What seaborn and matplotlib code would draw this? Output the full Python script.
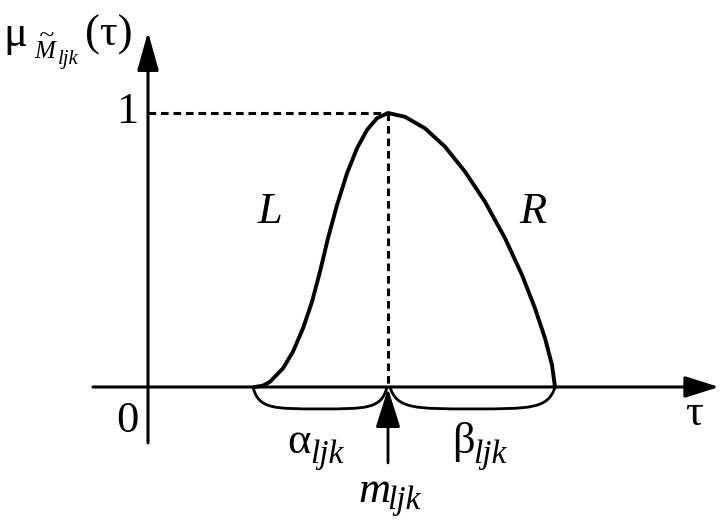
import matplotlib
matplotlib.use("Agg")
import matplotlib.pyplot as plt
import seaborn as sns
import pandas as pd
from matplotlib.path import Path
from matplotlib.patches import PathPatch

# membership curve (tau, mu)
tau_left = [1.07, 1.15, 1.22, 1.35, 1.45, 1.55, 1.64, 1.72, 1.80, 1.89, 1.99, 2.09, 2.19, 2.29, 2.40]
mu_left = [0.0, 0.005, 0.019, 0.068, 0.129, 0.214, 0.311, 0.421, 0.543, 0.664, 0.780, 0.871, 0.938, 0.981, 1.0]
tau_right = [2.40, 2.57, 2.77, 2.97, 3.17, 3.37, 3.57, 3.74, 3.87, 3.97, 4.04, 4.07]
mu_right = [1.0, 0.986, 0.944, 0.877, 0.786, 0.676, 0.543, 0.409, 0.287, 0.178, 0.080, 0.0]

m_ljk = 2.40          # peak position
left_end = 1.05       # m - alpha
right_end = 4.07      # m + beta

SERIF = "Liberation Serif"

plt.rcParams["font.family"] = "serif"
plt.rcParams["font.serif"] = [SERIF, "DejaVu Serif"]
plt.rcParams["lines.scale_dashes"] = False

fig = plt.figure(figsize=(7.2, 5.23), dpi=100)
ax = fig.add_axes([0, 0, 1, 1])
ax.set_xlim(-1.48, 5.72)
ax.set_ylim(-0.4964, 1.4124)
ax.axis("off")

df = pd.DataFrame({"tau": tau_left + tau_right[1:], "mu": mu_left + mu_right[1:]})
sns.lineplot(data=df, x="tau", y="mu", sort=False, estimator=None,
             color="black", lw=2.8, ax=ax)

# axes with arrows
ax.annotate("", xy=(5.71, 0), xytext=(-0.55, 0),
            arrowprops=dict(arrowstyle="-|>,head_length=1.9,head_width=0.6",
                            mutation_scale=11, lw=2.2, color="black",
                            shrinkA=0, shrinkB=0))
ax.annotate("", xy=(0, 1.296), xytext=(0, -0.204),
            arrowprops=dict(arrowstyle="-|>,head_length=2.15,head_width=0.6",
                            mutation_scale=11, lw=2.2, color="black",
                            shrinkA=0, shrinkB=0))

# dashed guides to the peak
ax.plot([0, m_ljk], [1, 1], color="black", lw=2.2, dashes=(5.5, 3.5))
ax.plot([m_ljk, m_ljk], [1, 0], color="black", lw=2.2, dashes=(5.5, 3.5))

# braces under the axis
def brace(a, b, d=0.08):
    w = b - a
    mid = a + w / 2
    verts = [(a, 0), (a + 0.04 * w, -d), (a + 0.15 * w, -d), (mid, -d),
             (b - 0.15 * w, -d), (b - 0.04 * w, -d), (b, 0)]
    codes = [Path.MOVETO] + [Path.CURVE4] * 6
    ax.add_patch(PathPatch(Path(verts, codes), fill=False, lw=2.0, color="black"))

brace(left_end, m_ljk - 0.01)
brace(m_ljk + 0.02, right_end)

# arrow pointing at m
ax.annotate("", xy=(m_ljk, -0.005), xytext=(m_ljk, -0.277),
            arrowprops=dict(arrowstyle="-|>,head_length=2.2,head_width=0.69",
                            mutation_scale=11, lw=2.0, color="black",
                            shrinkA=0, shrinkB=0))

fs = 32
sub = 24
ax.text(-0.21, -0.164, "0", fontsize=fs, ha="center", va="baseline")
ax.text(-0.21, 0.964, "1", fontsize=fs, ha="center", va="baseline")
ax.text(5.46, -0.139, "τ", fontsize=fs, ha="center", va="baseline")
ax.text(1.22, 0.599, "L", fontsize=fs, style="italic", ha="center", va="baseline")
ax.text(3.85, 0.599, "R", fontsize=fs, style="italic", ha="center", va="baseline")

# alpha_ljk, beta_ljk, m_ljk built from pieces
ax.text(1.39, -0.241, "α", fontsize=fs, ha="left", va="baseline")
ax.text(1.62, -0.277, "ljk", fontsize=sub, style="italic", ha="left", va="baseline")
ax.text(3.04, -0.241, "β", fontsize=fs, ha="left", va="baseline")
ax.text(3.25, -0.277, "ljk", fontsize=sub, style="italic", ha="left", va="baseline")
ax.text(2.10, -0.420, "m", fontsize=fs, style="italic", ha="left", va="baseline")
ax.text(2.39, -0.445, "ljk", fontsize=sub, style="italic", ha="left", va="baseline")

# y-axis label: mu, tilde M with ljk, (tau)
ax.text(-1.45, 1.245, "μ", fontsize=fs, ha="left", va="baseline")
ax.text(-1.02, 1.252, "~", fontsize=20, style="italic", ha="center", va="baseline")
ax.text(-1.14, 1.201, "M", fontsize=18, style="italic", ha="left", va="baseline")
ax.text(-0.90, 1.179, "ljk", fontsize=15, style="italic", ha="left", va="baseline")
ax.text(-0.63, 1.245, "(τ)", fontsize=fs, ha="left", va="baseline")

fig.savefig("out.png", dpi=100)
